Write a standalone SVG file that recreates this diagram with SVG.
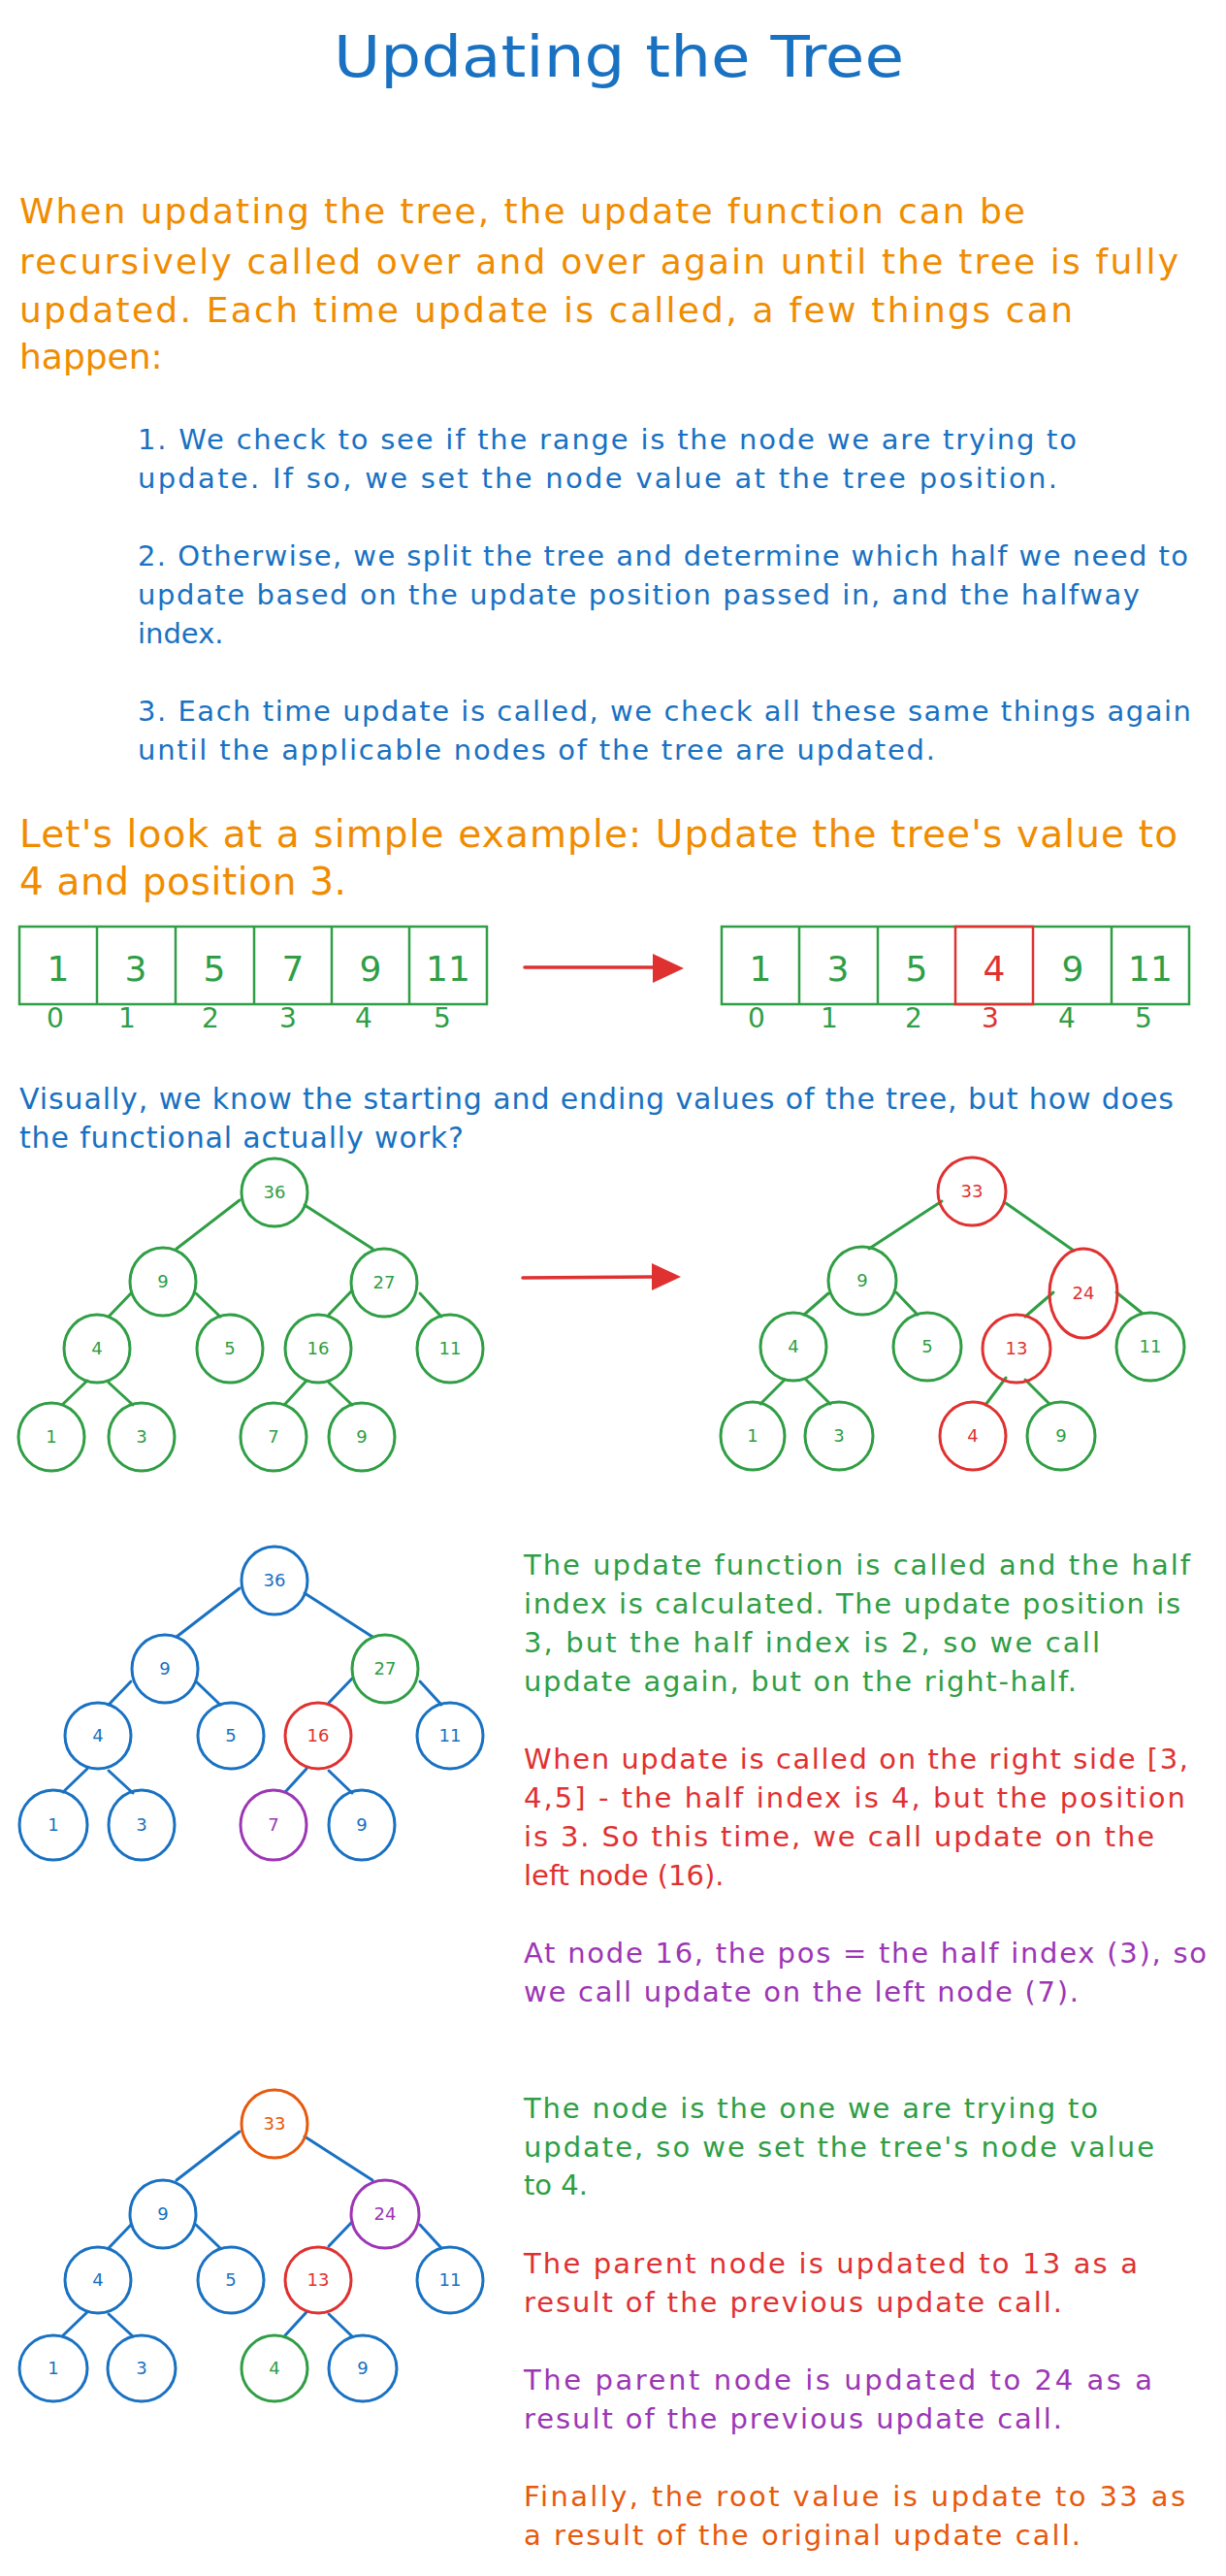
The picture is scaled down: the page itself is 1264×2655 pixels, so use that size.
<svg xmlns="http://www.w3.org/2000/svg" width="1264" height="2655" viewBox="0 0 1264 2655">
<style>
text{font-family:"DejaVu Sans","Liberation Sans",sans-serif}
.title{font-size:58px;fill:#1971c2}
.or{fill:#f08c00}
.od{fill:#e8590c}
.bl{fill:#1971c2}
.gr{fill:#2f9e44}
.rd{fill:#e03131}
.pu{fill:#9c36b5}
.p1{font-size:36px}
.p2{font-size:29px}
.p3{font-size:39px}
.p4{font-size:30px}
.p5{font-size:29px}
.cell{fill:none;stroke:#2f9e44;stroke-width:2.5}
.cellr{fill:none;stroke:#e03131;stroke-width:2.5}
.dig{font-size:36px;text-anchor:middle}
.idx{font-size:28px;text-anchor:middle}
ellipse{fill:none;stroke-width:3}
.sg{stroke:#2f9e44}.sb{stroke:#1971c2}.sr{stroke:#e03131}.sp{stroke:#9c36b5}.so{stroke:#e8590c}
.lbl{font-size:18px;text-anchor:middle}
.edges line{stroke-width:3;stroke-linecap:round}
</style>
<rect width="1264" height="2655" fill="#ffffff"/>

<g id="title"><text class="title" x="344" y="79" textLength="588" lengthAdjust="spacingAndGlyphs">Updating the Tree</text></g>

<g id="intro" class="or p1">
<text x="20" y="230" textLength="1037">When updating the tree, the update function can be</text>
<text x="20" y="282" textLength="1195">recursively called over and over again until the tree is fully</text>
<text x="20" y="332" textLength="1086">updated. Each time update is called, a few things can</text>
<text x="20" y="380">happen:</text>
</g>

<g id="steps" class="bl p2">
<text x="142" y="463" textLength="968">1. We check to see if the range is the node we are trying to</text>
<text x="142" y="503" textLength="948">update. If so, we set the node value at the tree position.</text>
<text x="142" y="583" textLength="1083">2. Otherwise, we split the tree and determine which half we need to</text>
<text x="142" y="623" textLength="1033">update based on the update position passed in, and the halfway</text>
<text x="142" y="663">index.</text>
<text x="142" y="743" textLength="1086">3. Each time update is called, we check all these same things again</text>
<text x="142" y="783" textLength="822">until the applicable nodes of the tree are updated.</text>
</g>

<g id="example" class="or p3">
<text x="20" y="873" textLength="1194">Let's look at a simple example: Update the tree's value to</text>
<text x="20" y="922" textLength="337">4 and position 3.</text>
</g>

<g id="array-before">
<rect class="cell" x="20" y="955" width="482" height="80"/>
<line class="cell" x1="100" y1="955" x2="100" y2="1035"/>
<line class="cell" x1="181" y1="955" x2="181" y2="1035"/>
<line class="cell" x1="262" y1="955" x2="262" y2="1035"/>
<line class="cell" x1="342" y1="955" x2="342" y2="1035"/>
<line class="cell" x1="422" y1="955" x2="422" y2="1035"/>
<g class="gr dig">
<text x="60" y="1011">1</text><text x="140" y="1011">3</text><text x="221" y="1011">5</text>
<text x="302" y="1011">7</text><text x="382" y="1011">9</text><text x="462" y="1011">11</text>
</g>
<g class="gr idx">
<text x="57" y="1059">0</text><text x="131" y="1059">1</text><text x="217" y="1059">2</text>
<text x="297" y="1059">3</text><text x="375" y="1059">4</text><text x="456" y="1059">5</text>
</g>
</g>

<g id="array-after">
<rect class="cell" x="744" y="955" width="482" height="80"/>
<line class="cell" x1="824" y1="955" x2="824" y2="1035"/>
<line class="cell" x1="905" y1="955" x2="905" y2="1035"/>
<line class="cell" x1="1146" y1="955" x2="1146" y2="1035"/>
<rect class="cellr" x="985" y="955" width="80" height="80"/>
<g class="dig">
<text class="gr" x="784" y="1011">1</text><text class="gr" x="864" y="1011">3</text><text class="gr" x="945" y="1011">5</text>
<text class="rd" x="1025" y="1011">4</text><text class="gr" x="1106" y="1011">9</text><text class="gr" x="1186" y="1011">11</text>
</g>
<g class="idx">
<text class="gr" x="780" y="1059">0</text><text class="gr" x="855" y="1059">1</text><text class="gr" x="942" y="1059">2</text>
<text class="rd" x="1021" y="1059">3</text><text class="gr" x="1100" y="1059">4</text><text class="gr" x="1179" y="1059">5</text>
</g>
</g>

<g id="visually" class="bl p4">
<text x="20" y="1143" textLength="1190">Visually, we know the starting and ending values of the tree, but how does</text>
<text x="20" y="1183" textLength="458">the functional actually work?</text>
</g>

<g id="connectors">
<g class="edges">
<line x1="541" y1="997" x2="676" y2="997" class="sr" style="stroke-width:3.5"/>
<line x1="539" y1="1317" x2="674" y2="1316" class="sr" style="stroke-width:3.5"/>
</g>
<polygon points="673,983 705,998 673,1013" fill="#e03131"/>
<polygon points="672,1302 702,1316 672,1330" fill="#e03131"/>
<g class="edges sg">
<line x1="247" y1="1237" x2="182" y2="1287"/>
<line x1="314" y1="1242" x2="384" y2="1287"/>
<line x1="135" y1="1333" x2="112" y2="1357"/>
<line x1="202" y1="1333" x2="227" y2="1357"/>
<line x1="363" y1="1330" x2="339" y2="1355"/>
<line x1="433" y1="1333" x2="455" y2="1357"/>
<line x1="90" y1="1423" x2="65" y2="1447"/>
<line x1="112" y1="1425" x2="137" y2="1448"/>
<line x1="316" y1="1423" x2="294" y2="1447"/>
<line x1="339" y1="1425" x2="363" y2="1448"/>
</g>
<g class="edges sg">
<line x1="971" y1="1238" x2="896" y2="1287"/>
<line x1="1037" y1="1240" x2="1107" y2="1289"/>
<line x1="854" y1="1333" x2="829" y2="1355"/>
<line x1="924" y1="1332" x2="946" y2="1355"/>
<line x1="1086" y1="1332" x2="1057" y2="1357"/>
<line x1="1151" y1="1332" x2="1177" y2="1353"/>
<line x1="809" y1="1422" x2="784" y2="1447"/>
<line x1="831" y1="1422" x2="856" y2="1447"/>
<line x1="1037" y1="1420" x2="1016" y2="1448"/>
<line x1="1057" y1="1422" x2="1082" y2="1447"/>
</g>
<g class="edges sb">
<line x1="247" y1="1637" x2="182" y2="1687"/>
<line x1="314" y1="1642" x2="384" y2="1687"/>
<line x1="135" y1="1733" x2="112" y2="1757"/>
<line x1="202" y1="1733" x2="227" y2="1757"/>
<line x1="363" y1="1730" x2="339" y2="1755"/>
<line x1="433" y1="1733" x2="455" y2="1757"/>
<line x1="90" y1="1823" x2="65" y2="1847"/>
<line x1="112" y1="1825" x2="137" y2="1848"/>
<line x1="316" y1="1823" x2="294" y2="1847"/>
<line x1="339" y1="1825" x2="363" y2="1848"/>
</g>
<g class="edges sb">
<line x1="247" y1="2197" x2="182" y2="2247"/>
<line x1="314" y1="2202" x2="384" y2="2247"/>
<line x1="135" y1="2293" x2="112" y2="2317"/>
<line x1="202" y1="2293" x2="227" y2="2317"/>
<line x1="363" y1="2290" x2="339" y2="2315"/>
<line x1="433" y1="2293" x2="455" y2="2317"/>
<line x1="90" y1="2383" x2="65" y2="2407"/>
<line x1="112" y1="2385" x2="137" y2="2408"/>
<line x1="316" y1="2383" x2="294" y2="2407"/>
<line x1="339" y1="2385" x2="363" y2="2408"/>
</g>
</g>

<g id="tree1">
<g id="t1-36"><ellipse class="sg" cx="283" cy="1229" rx="34" ry="35"/><text class="lbl gr" x="283" y="1235">36</text></g>
<g id="t1-9a"><ellipse class="sg" cx="168" cy="1321" rx="34" ry="35"/><text class="lbl gr" x="168" y="1327">9</text></g>
<g id="t1-27"><ellipse class="sg" cx="396" cy="1322" rx="34" ry="35"/><text class="lbl gr" x="396" y="1328">27</text></g>
<g id="t1-4"><ellipse class="sg" cx="100" cy="1390" rx="34" ry="35"/><text class="lbl gr" x="100" y="1396">4</text></g>
<g id="t1-5"><ellipse class="sg" cx="237" cy="1390" rx="34" ry="35"/><text class="lbl gr" x="237" y="1396">5</text></g>
<g id="t1-16"><ellipse class="sg" cx="328" cy="1390" rx="34" ry="35"/><text class="lbl gr" x="328" y="1396">16</text></g>
<g id="t1-11"><ellipse class="sg" cx="464" cy="1390" rx="34" ry="35"/><text class="lbl gr" x="464" y="1396">11</text></g>
<g id="t1-1"><ellipse class="sg" cx="53" cy="1481" rx="34" ry="35"/><text class="lbl gr" x="53" y="1487">1</text></g>
<g id="t1-3"><ellipse class="sg" cx="146" cy="1481" rx="34" ry="35"/><text class="lbl gr" x="146" y="1487">3</text></g>
<g id="t1-7"><ellipse class="sg" cx="282" cy="1481" rx="34" ry="35"/><text class="lbl gr" x="282" y="1487">7</text></g>
<g id="t1-9b"><ellipse class="sg" cx="373" cy="1481" rx="34" ry="35"/><text class="lbl gr" x="373" y="1487">9</text></g>
</g>

<g id="tree2">
<g id="t2-33"><ellipse class="sr" cx="1002" cy="1228" rx="35" ry="35"/><text class="lbl rd" x="1002" y="1234">33</text></g>
<g id="t2-9a"><ellipse class="sg" cx="889" cy="1320" rx="35" ry="35"/><text class="lbl gr" x="889" y="1326">9</text></g>
<g id="t2-24"><ellipse class="sr" cx="1117" cy="1333" rx="35" ry="46"/><text class="lbl rd" x="1117" y="1339">24</text></g>
<g id="t2-4"><ellipse class="sg" cx="818" cy="1388" rx="34" ry="35"/><text class="lbl gr" x="818" y="1394">4</text></g>
<g id="t2-5"><ellipse class="sg" cx="956" cy="1388" rx="35" ry="35"/><text class="lbl gr" x="956" y="1394">5</text></g>
<g id="t2-13"><ellipse class="sr" cx="1048" cy="1390" rx="35" ry="35"/><text class="lbl rd" x="1048" y="1396">13</text></g>
<g id="t2-11"><ellipse class="sg" cx="1186" cy="1388" rx="35" ry="35"/><text class="lbl gr" x="1186" y="1394">11</text></g>
<g id="t2-1"><ellipse class="sg" cx="776" cy="1480" rx="33" ry="35"/><text class="lbl gr" x="776" y="1486">1</text></g>
<g id="t2-3"><ellipse class="sg" cx="865" cy="1480" rx="35" ry="35"/><text class="lbl gr" x="865" y="1486">3</text></g>
<g id="t2-4b"><ellipse class="sr" cx="1003" cy="1480" rx="34" ry="35"/><text class="lbl rd" x="1003" y="1486">4</text></g>
<g id="t2-9b"><ellipse class="sg" cx="1094" cy="1480" rx="35" ry="35"/><text class="lbl gr" x="1094" y="1486">9</text></g>
</g>

<g id="tree3">
<g id="t3-36"><ellipse class="sb" cx="283" cy="1629" rx="34" ry="35"/><text class="lbl bl" x="283" y="1635">36</text></g>
<g id="t3-9a"><ellipse class="sb" cx="170" cy="1720" rx="34" ry="35"/><text class="lbl bl" x="170" y="1726">9</text></g>
<g id="t3-27"><ellipse class="sg" cx="397" cy="1720" rx="34" ry="35"/><text class="lbl gr" x="397" y="1726">27</text></g>
<g id="t3-4"><ellipse class="sb" cx="101" cy="1789" rx="34" ry="34"/><text class="lbl bl" x="101" y="1795">4</text></g>
<g id="t3-5"><ellipse class="sb" cx="238" cy="1789" rx="34" ry="34"/><text class="lbl bl" x="238" y="1795">5</text></g>
<g id="t3-16"><ellipse class="sr" cx="328" cy="1789" rx="34" ry="34"/><text class="lbl rd" x="328" y="1795">16</text></g>
<g id="t3-11"><ellipse class="sb" cx="464" cy="1789" rx="34" ry="34"/><text class="lbl bl" x="464" y="1795">11</text></g>
<g id="t3-1"><ellipse class="sb" cx="55" cy="1881" rx="35" ry="36"/><text class="lbl bl" x="55" y="1887">1</text></g>
<g id="t3-3"><ellipse class="sb" cx="146" cy="1881" rx="34" ry="36"/><text class="lbl bl" x="146" y="1887">3</text></g>
<g id="t3-7"><ellipse class="sp" cx="282" cy="1881" rx="34" ry="36"/><text class="lbl pu" x="282" y="1887">7</text></g>
<g id="t3-9b"><ellipse class="sb" cx="373" cy="1881" rx="34" ry="36"/><text class="lbl bl" x="373" y="1887">9</text></g>
</g>

<g id="text3" class="p5">
<g class="gr">
<text x="540" y="1623" textLength="687">The update function is called and the half</text>
<text x="540" y="1663" textLength="677">index is calculated. The update position is</text>
<text x="540" y="1703" textLength="594">3, but the half index is 2, so we call</text>
<text x="540" y="1743" textLength="570">update again, but on the right-half.</text>
</g>
<g class="rd">
<text x="540" y="1823" textLength="685">When update is called on the right side [3,</text>
<text x="540" y="1863" textLength="682">4,5] - the half index is 4, but the position</text>
<text x="540" y="1903" textLength="650">is 3. So this time, we call update on the</text>
<text x="540" y="1943">left node (16).</text>
</g>
<g class="pu">
<text x="540" y="2023" textLength="704">At node 16, the pos = the half index (3), so</text>
<text x="540" y="2063" textLength="572">we call update on the left node (7).</text>
</g>
</g>

<g id="tree4">
<g id="t4-33"><ellipse class="so" cx="283" cy="2189" rx="34" ry="35"/><text class="lbl od" x="283" y="2195">33</text></g>
<g id="t4-9a"><ellipse class="sb" cx="168" cy="2282" rx="34" ry="35"/><text class="lbl bl" x="168" y="2288">9</text></g>
<g id="t4-24"><ellipse class="sp" cx="397" cy="2282" rx="35" ry="35"/><text class="lbl pu" x="397" y="2288">24</text></g>
<g id="t4-4"><ellipse class="sb" cx="101" cy="2350" rx="34" ry="34"/><text class="lbl bl" x="101" y="2356">4</text></g>
<g id="t4-5"><ellipse class="sb" cx="238" cy="2350" rx="34" ry="34"/><text class="lbl bl" x="238" y="2356">5</text></g>
<g id="t4-13"><ellipse class="sr" cx="328" cy="2350" rx="34" ry="34"/><text class="lbl rd" x="328" y="2356">13</text></g>
<g id="t4-11"><ellipse class="sb" cx="464" cy="2350" rx="34" ry="34"/><text class="lbl bl" x="464" y="2356">11</text></g>
<g id="t4-1"><ellipse class="sb" cx="55" cy="2441" rx="35" ry="34"/><text class="lbl bl" x="55" y="2447">1</text></g>
<g id="t4-3"><ellipse class="sb" cx="146" cy="2441" rx="35" ry="34"/><text class="lbl bl" x="146" y="2447">3</text></g>
<g id="t4-4b"><ellipse class="sg" cx="283" cy="2441" rx="34" ry="34"/><text class="lbl gr" x="283" y="2447">4</text></g>
<g id="t4-9b"><ellipse class="sb" cx="374" cy="2441" rx="35" ry="34"/><text class="lbl bl" x="374" y="2447">9</text></g>
</g>

<g id="text4" class="p5">
<g class="gr">
<text x="540" y="2183" textLength="592">The node is the one we are trying to</text>
<text x="540" y="2223" textLength="650">update, so we set the tree's node value</text>
<text x="540" y="2262">to 4.</text>
</g>
<g class="rd">
<text x="540" y="2343" textLength="633">The parent node is updated to 13 as a</text>
<text x="540" y="2383" textLength="555">result of the previous update call.</text>
</g>
<g class="pu">
<text x="540" y="2463" textLength="648">The parent node is updated to 24 as a</text>
<text x="540" y="2503" textLength="555">result of the previous update call.</text>
</g>
<g class="od">
<text x="540" y="2583" textLength="682">Finally, the root value is update to 33 as</text>
<text x="540" y="2623" textLength="574">a result of the original update call.</text>
</g>
</g>
</svg>
